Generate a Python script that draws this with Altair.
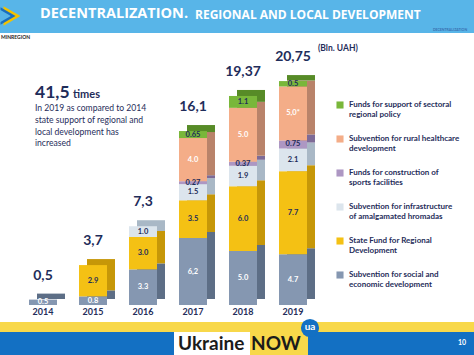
import altair as alt
import pandas as pd

FONT = "Lato"
NAVY = "#1f2d5a"

years = ["2014", "2015", "2016", "2017", "2018", "2019"]

# stacking order: bottom -> top
categories = [
    "Subvention for social and|economic development",
    "State Fund for Regional|Development",
    "Subvention for infrastructure|of amalgamated hromadas",
    "Funds for construction of|sports facilities",
    "Subvention for rural healthcare|development",
    "Funds for support of sectoral|regional policy",
]
front_colors = ["#8597b1", "#f4c114", "#dce5ed", "#ad97c3", "#f4ad88", "#79b73a"]
side_colors = ["#5d6e86", "#c69708", "#a9b8c6", "#7e6b97", "#b9836a", "#578b27"]
label_colors = ["white", NAVY, NAVY, NAVY, "white", NAVY]

social = [0.5, 0.8, 3.3, 6.2, 5.0, 4.7]
state_fund = [0.0, 2.9, 3.0, 3.5, 6.0, 7.7]
infrastructure = [0.0, 0.0, 1.0, 1.5, 1.9, 2.1]
sports = [0.0, 0.0, 0.0, 0.27, 0.37, 0.75]
healthcare = [0.0, 0.0, 0.0, 4.0, 5.0, 5.0]
sectoral = [0.0, 0.0, 0.0, 0.65, 1.1, 0.5]

social_lbl = ["0.5", "0.8", "3.3", "6,2", "5.0", "4.7"]
state_fund_lbl = ["", "2.9", "3.0", "3.5", "6.0", "7.7"]
infrastructure_lbl = ["", "", "1.0", "1.5", "1.9", "2.1"]
sports_lbl = ["", "", "", "0.27", "0.37", "0.75"]
healthcare_lbl = ["", "", "", "4.0", "5.0", "5,0*"]
sectoral_lbl = ["", "", "", "0.65", "1.1", "0.5"]

totals = [0.5, 3.7, 7.3, 16.1, 19.37, 20.75]
total_labels = ["0,5", "3,7", "7,3", "16,1", "19,37", "20,75"]

series = [social, state_fund, infrastructure, sports, healthcare, sectoral]
series_lbl = [social_lbl, state_fund_lbl, infrastructure_lbl, sports_lbl,
              healthcare_lbl, sectoral_lbl]

rows = []
for k, (vals, lbls) in enumerate(zip(series, series_lbl)):
    for y, v, l in zip(years, vals, lbls):
        rows.append({"year": y, "category": categories[k], "dark": "d" + str(k),
                     "ord": k, "value": v, "label": l, "tcolor": label_colors[k]})
df = pd.DataFrame(rows)
tot_df = pd.DataFrame({"year": years, "total": totals, "tlabel": total_labels})

legend_order = categories[::-1]
legend_colors = front_colors[::-1]

W, H = 300, 259
xscale = alt.Scale(domain=years, paddingInner=0.44, paddingOuter=0.22)
yscale = alt.Scale(domain=[0, 24])
X = alt.X("year:N", scale=xscale, sort=years,
          axis=alt.Axis(title=None, labelAngle=0, domain=False, ticks=False,
                        labelPadding=2, labelFont=FONT, labelFontSize=9,
                        labelFontWeight="bold", labelColor=NAVY))

one = pd.DataFrame({"a": [0]})


def rect(x1, y1, x2, y2, color, opacity=1.0):
    return alt.Chart(one).mark_rect(color=color, opacity=opacity).encode(
        x=alt.value(x1), x2=alt.value(x2), y=alt.value(y1), y2=alt.value(y2))


def txt(x, y, s, size, color=NAVY, weight="bold", align="left", font=FONT):
    return alt.Chart(one).mark_text(
        text=s, fontSize=size, color=color, fontWeight=weight, align=align,
        baseline="middle", font=font).encode(x=alt.value(x), y=alt.value(y))


def tri(x, y, size, color):
    return alt.Chart(one).mark_point(shape="triangle-right", filled=True, size=size,
                                     color=color, opacity=1).encode(
        x=alt.value(x), y=alt.value(y))


# plot origin is at absolute (18, 46)
OX, OY = 18, 46

header = rect(-OX, -OY, 474 - OX, 33 - OY, "#58b5e8")
logo_a = tri(12 - OX, 16 - OY, 380, "#f2c200")
logo_b = tri(8 - OX, 16 - OY, 300, "#1a6fc0")
logo_c = tri(4 - OX, 16 - OY, 250, "#58b5e8")
logo_txt = txt(1 - OX, 37 - OY, "MINREGION", 5, color="#222")
title1 = txt(40 - OX, 14 - OY, "DECENTRALIZATION.", 14.5, color="white", font="Open Sans")
title2 = txt(195 - OX, 15 - OY, "REGIONAL AND LOCAL DEVELOPMENT", 12, color="white",
             font="Open Sans")
deco_txt = txt(450 - OX, 30 - OY, "DECENTRALIZATION", 3.5, color="#3a6fb0", align="center")

yellow_wave = rect(-OX, 322 - OY, 474 - OX, 333 - OY, "#f8d84a")
blue_band = rect(-OX, 332 - OY, 474 - OX, 355 - OY, "#1370c3")
white_box = rect(174 - OX, 332 - OY, 250 - OX, 355 - OY, "white")
yellow_box = rect(250 - OX, 332 - OY, 308 - OX, 355 - OY, "#f8d84a")
ukr = txt(178 - OX, 344 - OY, "Ukraine", 19, color="#1b1b1b")
now = txt(251 - OX, 344 - OY, "NOW", 19, color="#1b1b1b", weight="bold")
ua_circle = alt.Chart(one).mark_point(filled=True, size=330, color="#1370c3",
                                      opacity=1).encode(
    x=alt.value(310 - OX), y=alt.value(328 - OY))
ua_txt = txt(310 - OX, 327 - OY, "ua", 10, color="white", align="center")
page = txt(462 - OX, 343 - OY, "10", 7, color="white", align="center")

big = txt(35 - OX, 93 - OY, "41,5", 17.5)
times = txt(73 - OX, 95 - OY, "times", 11)
desc = [txt(35 - OX, yy - OY, s, 8.6, weight="normal") for yy, s in [
    (108, "In 2019 as compared to 2014"),
    (120, "state support of regional and"),
    (131.5, "local development has"),
    (142.5, "increased"),
]]
unit = txt(318 - OX, 48 - OY, "(Bln. UAH)", 8.5)

base = alt.Chart(df)

shadow = base.mark_bar(xOffset=8, yOffset=-6).encode(
    x=X,
    y=alt.Y("value:Q", stack="zero", scale=yscale, axis=None),
    color=alt.Color("dark:N", scale=alt.Scale(domain=["d" + str(i) for i in range(6)],
                                              range=side_colors), legend=None),
    order=alt.Order("ord:Q", sort="ascending"),
)

front = base.mark_bar().encode(
    x=X,
    y=alt.Y("value:Q", stack="zero", scale=yscale, axis=None),
    color=alt.Color("category:N", scale=alt.Scale(domain=legend_order, range=legend_colors),
                    legend=alt.Legend(
                        orient="none", legendX=318, legendY=55, title=None,
                        symbolType="square", symbolSize=50, symbolStrokeWidth=0,
                        labelExpr="split(datum.label, '|')", labelFont=FONT,
                        labelFontSize=8, labelFontWeight="bold", labelColor=NAVY,
                        labelLimit=200, rowPadding=16, labelOffset=5)),
    order=alt.Order("ord:Q", sort="ascending"),
)

seg_text = base.transform_stack(
    stack="value", groupby=["year"], as_=["y0", "y1"],
    sort=[alt.SortField("ord", order="ascending")],
).transform_calculate(
    mid="(datum.y0 + datum.y1) / 2"
).transform_filter("datum.label != ''").mark_text(
    fontSize=7.5, fontWeight="bold", font=FONT, baseline="middle"
).encode(
    x=X,
    y=alt.Y("mid:Q", scale=yscale, axis=None),
    text="label:N",
    color=alt.Color("tcolor:N", scale=None),
)

tot_text = alt.Chart(tot_df).mark_text(
    fontSize=14, fontWeight="bold", font=FONT, color=NAVY, baseline="middle", dy=-24
).encode(
    x=X,
    y=alt.Y("total:Q", scale=yscale, axis=None),
    text="tlabel:N",
)

chart = alt.layer(
    header, logo_a, logo_b, logo_c, logo_txt, title1, title2, deco_txt,
    yellow_wave, blue_band, white_box, yellow_box, ukr, now, ua_circle, ua_txt, page,
    big, times, *desc, unit,
    shadow, front, seg_text, tot_text,
).resolve_scale(color="independent").properties(
    width=W, height=H,
    padding={"left": OX, "top": OY, "right": 474 - OX - W, "bottom": 355 - OY - H},
    autosize="none",
    background="white",
).configure_view(stroke=None)

chart.save("out.html", embed_options={"renderer": "svg", "actions": False})
